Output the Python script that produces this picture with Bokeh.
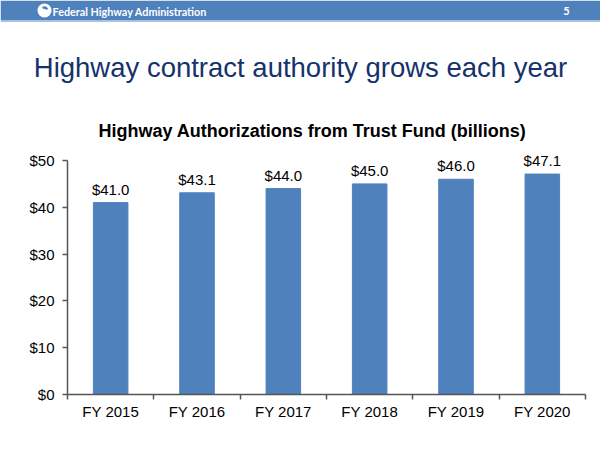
from bokeh.plotting import figure
from bokeh.models import Range1d, FixedTicker, ColumnDataSource
from bokeh.core.properties import value
from bokeh.embed import file_html
from bokeh.resources import INLINE

# ---- data ----
categories = ["FY 2015", "FY 2016", "FY 2017", "FY 2018", "FY 2019", "FY 2020"]
amounts = [41.0, 43.1, 44.0, 45.0, 46.0, 47.1]
y_ticks = [0, 10, 20, 30, 40, 50]
y_tick_labels = ["$0", "$10", "$20", "$30", "$40", "$50"]

header_text = "Federal Highway Administration"
page_number = "5"
slide_title = "Highway contract authority grows each year"
chart_title = "Highway Authorizations from Trust Fund (billions)"

BAR = "#4f81bd"
FONT = "Liberation Sans"
AX = "#555555"

W, H = 600, 450
# plot area in page pixels
PL, PR, PT, PB = 67, 585, 160, 394
n = len(categories)
ymax = 50
xppu = (PR - PL) / n          # pixels per category
yppu = (PB - PT) / ymax       # pixels per $1B
x0 = 0.5 - PL / xppu
x1 = n + 0.5 + (W - PR) / xppu
y0 = -(H - PB) / yppu
y1 = ymax + PT / yppu


def px(xp):
    return x0 + xp / xppu


def py(yp):
    return y1 - yp / yppu


xs = list(range(1, n + 1))
src = ColumnDataSource(dict(x=xs, top=amounts, lbl=["$%.1f" % v for v in amounts]))

p = figure(width=W, height=H, x_range=Range1d(x0, x1), y_range=Range1d(y0, y1),
           toolbar_location=None, output_backend="svg", min_border=0,
           outline_line_color=None)
p.xgrid.visible = False
p.ygrid.visible = False

# slide header
p.quad(left=[px(0)], right=[px(W)], top=[py(0)], bottom=[py(20)], fill_color=BAR, line_color=None)
p.quad(left=[px(0)], right=[px(W)], top=[py(20)], bottom=[py(21.5)], fill_color="#a9c1e0", line_color=None)
p.scatter(x=[px(44)], y=[py(10)], size=14, marker="circle", fill_color="white", line_color=None)
p.annular_wedge(x=[px(44)], y=[py(10)], inner_radius=1.6, outer_radius=4.2, inner_radius_units="screen",
                outer_radius_units="screen", start_angle=[0.4], end_angle=[2.2],
                fill_color=BAR, line_color=None)
p.text(x=[px(52)], y=[py(10.5)], text=[header_text], text_font=value("Lato"), text_font_style="bold",
       text_font_size="10.8px", text_color="white", text_baseline="middle")
p.text(x=[px(566)], y=[py(10.5)], text=[page_number], text_font=value("Lato"), text_font_style="bold",
       text_font_size="11px", text_color="white", text_baseline="middle", text_align="center")
p.text(x=[px(300)], y=[py(67)], text=[slide_title], text_font=value(FONT), text_font_size="27.5px",
       text_color="#16326c", text_baseline="middle", text_align="center")
p.text(x=[px(312)], y=[py(130)], text=[chart_title], text_font=value(FONT), text_font_style="bold",
       text_font_size="18px", text_color="black", text_baseline="middle", text_align="center")

# bars and value labels
p.vbar(x="x", top="top", width=0.4, bottom=0, source=src, fill_color=BAR, line_color=BAR)
p.text(x="x", y="top", text="lbl", source=src, text_font=value(FONT), text_font_size="15px",
       text_color="black", text_align="center", text_baseline="bottom", y_offset=-5)

# axes at fixed locations inside the page-sized frame
p.yaxis.fixed_location = 0.5
p.yaxis.bounds = (0, ymax)
p.yaxis.ticker = FixedTicker(ticks=y_ticks)
p.yaxis.major_label_overrides = {t: l for t, l in zip(y_ticks, y_tick_labels)}
p.yaxis.minor_tick_line_color = None
p.yaxis.major_tick_out = 5
p.yaxis.major_tick_in = 0
p.yaxis.major_label_standoff = 8
p.yaxis.major_tick_line_color = AX
p.yaxis.major_tick_line_width = 1.5

p.xaxis.fixed_location = 0
p.xaxis.bounds = (0.5, n + 0.5)
p.xaxis.ticker = FixedTicker(ticks=xs, minor_ticks=[x - 0.5 for x in xs] + [n + 0.5])
p.xaxis.major_label_overrides = {x: c for x, c in zip(xs, categories)}
p.xaxis.major_tick_line_color = None
p.xaxis.major_tick_out = 5
p.xaxis.major_tick_in = 0
p.xaxis.minor_tick_out = 5
p.xaxis.minor_tick_in = 0
p.xaxis.minor_tick_line_color = AX
p.xaxis.minor_tick_line_width = 1.5
p.xaxis.major_label_standoff = 3

for ax in (p.xaxis, p.yaxis):
    ax.axis_line_color = AX
    ax.axis_line_width = 1.5
    ax.major_label_text_font = FONT
    ax.major_label_text_font_size = "15px"
    ax.major_label_text_color = "black"

open("out.html", "w").write(file_html(p, INLINE))
